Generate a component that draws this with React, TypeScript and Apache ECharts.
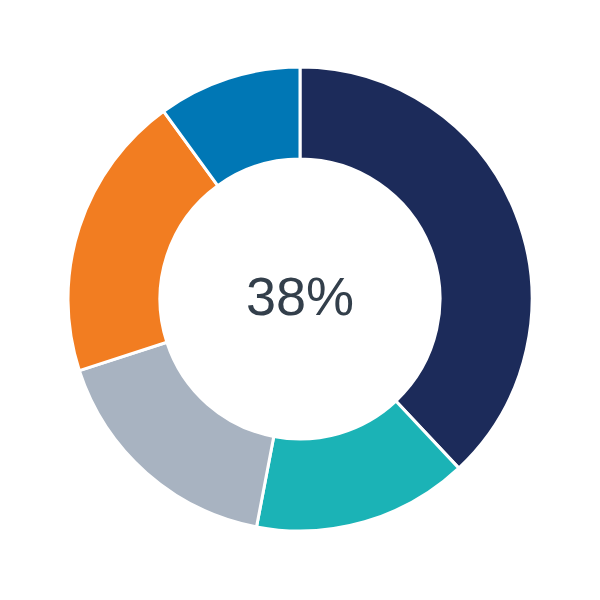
import React, { useEffect, useRef } from "react";
import * as echarts from "echarts";

const categories = ["Navy", "Teal", "Gray", "Orange", "Blue"];
const values = [38, 15, 17, 20, 10];
const colors = ["#1c2b5a", "#1bb3b6", "#a8b3c1", "#f27d21", "#0077b5"];
const centerLabel = "38%";

const App: React.FC = () => {
  const chartRef = useRef<HTMLDivElement>(null);

  useEffect(() => {
    if (!chartRef.current) return;
    const chart = echarts.init(chartRef.current, null, { renderer: "svg" });

    const option = {
      animation: false,
      backgroundColor: "#ffffff",
      color: colors,
      title: {
        text: centerLabel,
        left: "center",
        top: 264,
        textStyle: {
          fontFamily: "Liberation Sans, Arial, sans-serif",
          fontSize: 54,
          fontWeight: "normal",
          color: "#333f4b",
        },
      },
      series: [
        {
          type: "pie",
          center: [300, 299],
          radius: [140, 232],
          startAngle: 90,
          clockwise: true,
          label: { show: false },
          labelLine: { show: false },
          itemStyle: {
            borderColor: "#ffffff",
            borderWidth: 3,
          },
          emphasis: { disabled: true },
          data: categories.map((name, i) => ({ name, value: values[i] })),
        },
      ],
    };

    chart.setOption(option);
    return () => chart.dispose();
  }, []);

  return (
    <div
      ref={chartRef}
      style={{ position: "fixed", left: 0, top: 0, width: 600, height: 600 }}
    ></div>
  );
};

export default App;
